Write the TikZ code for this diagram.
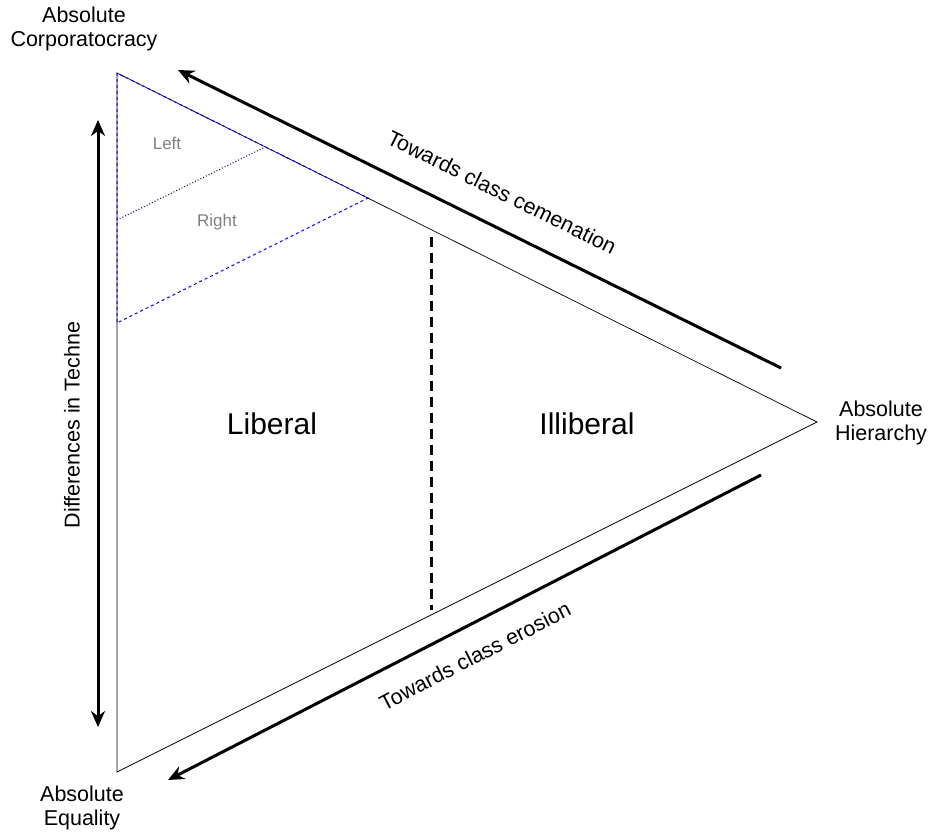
\documentclass[tikz,border=0pt]{standalone}
\usepackage{fontspec}
\setmainfont{Liberation Sans}
\usetikzlibrary{arrows.meta}
\begin{document}
\begin{tikzpicture}[x=1pt,y=-1pt,
  lbl/.style={font=\fontsize{21.5}{24}\selectfont,align=center,inner sep=1pt},
  big/.style={font=\fontsize{30}{34}\selectfont},
  small/.style={font=\fontsize{17}{20}\selectfont,text=gray},
  thickarrow/.style={line width=3pt,-{Stealth[length=16pt,width=14pt]}}]
\useasboundingbox (0,0) rectangle (933,837);
\coordinate (T) at (117,73); \coordinate (B) at (117,772); \coordinate (R) at (817,422);
\draw[line width=0.7pt] (T) -- (R) -- (B) -- cycle;
\coordinate (b1) at (117,323); \coordinate (b2) at (368,198);
\coordinate (d1) at (117,220); \coordinate (d2) at (265,147);
\draw[blue,dashed,line width=1pt] (T) -- (b1) -- (b2) -- cycle;
\draw[blue!50!black,dotted,line width=1pt] (d1) -- (d2);
\node[small] (left) at (167,143) {Left};
\node[small] (right) at (217,222) {Right};
\coordinate (v1) at (431,237); \coordinate (v2) at (431,610);
\draw[line width=3pt,dash pattern=on 10pt off 6pt] (v1) -- (v2);
\node[big] (lib) at (272,424) {Liberal};
\node[big] (ill) at (587,424) {Illiberal};
\coordinate (a1) at (781,368); \coordinate (a2) at (178,70);
\draw[thickarrow] (a1) -- (a2);
\node[lbl,rotate=-26.3] (t1) at (502,192) {Towards class cemenation};
\coordinate (c1) at (761,475); \coordinate (c2) at (168,780);
\draw[thickarrow] (c1) -- (c2);
\node[lbl,rotate=27.2] (t2) at (475,656) {Towards class erosion};
\coordinate (e1) at (98,120); \coordinate (e2) at (98,727);
\draw[line width=3pt,{Stealth[length=16pt,width=14pt]}-{Stealth[length=16pt,width=14pt]}] (e1) -- (e2);
\node[lbl,rotate=90] (t3) at (72,425) {Differences in Techne};
\node[lbl] (n1) at (84,29) {Absolute\\Corporatocracy};
\node[lbl] (n2) at (881,423) {Absolute\\Hierarchy};
\node[lbl] (n3) at (82,808) {Absolute\\Equality};
\end{tikzpicture}
\end{document}
